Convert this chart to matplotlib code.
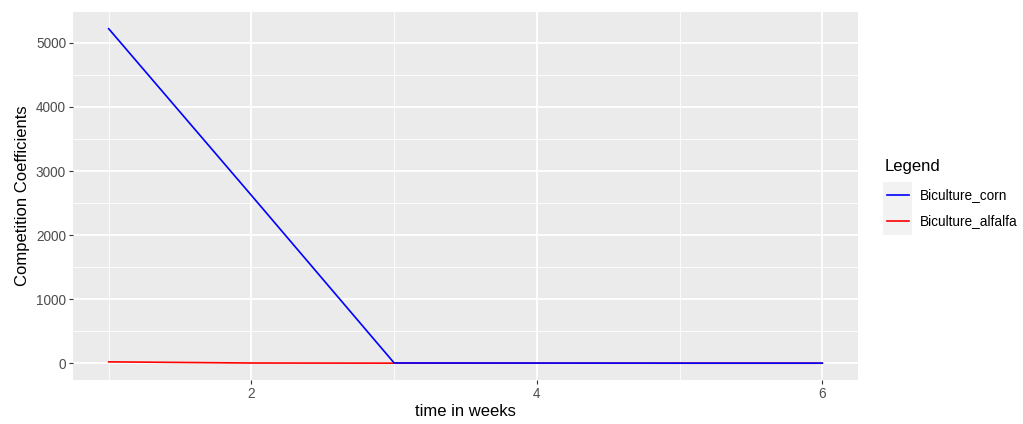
import matplotlib
matplotlib.use("Agg")
import matplotlib.pyplot as plt
from matplotlib.lines import Line2D
from matplotlib.patches import Rectangle

plt.rcParams['font.family'] = ['Liberation Sans', 'DejaVu Sans']

# 주차별 경쟁 계수
weeks = [1, 2, 3, 4, 5, 6]
biculture_corn = [5220, 2620, 5, 3, 2, 2]
biculture_alfalfa = [22, 4, 2, 2, 1, 1]
series_names = ['Biculture_corn', 'Biculture_alfalfa']
series_colors = ['blue', 'red']

W, H = 1023, 424
fig = plt.figure(figsize=(W / 100, H / 100), dpi=100)
ax = fig.add_axes([73 / W, 44 / H, 785 / W, 368 / H])
ax.set_facecolor('#EBEBEB')
for s in ax.spines.values():
    s.set_visible(False)

ax.plot(weeks, biculture_corn, color=series_colors[0], linewidth=1.2, zorder=3)
ax.plot(weeks, biculture_alfalfa, color=series_colors[1], linewidth=1.2, zorder=2)

ax.set_xlim(0.75, 6.25)
ax.set_ylim(-261, 5481)
ax.set_xticks([2, 4, 6])
ax.set_yticks([0, 1000, 2000, 3000, 4000, 5000])
ax.set_xticks([1, 3, 5], minor=True)
ax.set_yticks([500, 1500, 2500, 3500, 4500], minor=True)
ax.grid(True, which='major', color='white', linewidth=1.3)
ax.grid(True, which='minor', color='white', linewidth=0.6)
ax.set_axisbelow(True)
ax.tick_params(which='major', length=3, width=0.8, color='#333333',
               labelsize=9.8, labelcolor='#4D4D4D', pad=2)
ax.tick_params(which='minor', length=0)

ax.set_xlabel('time in weeks', fontsize=12, labelpad=2)
ax.set_ylabel('Competition Coefficients', fontsize=12, labelpad=4)

# 범례는 직접 그림 (ggplot 스타일)
fig.text(885 / W, 1 - 171 / H, 'Legend', fontsize=12, va='baseline', ha='left')
fig.patches.append(Rectangle((883 / W, 1 - 235 / H), 29 / W, 53 / H,
                             transform=fig.transFigure, facecolor='#F2F2F2',
                             edgecolor='none'))
for i, (name, col) in enumerate(zip(series_names, series_colors)):
    yc = 1 - (195 + 26 * i) / H
    fig.lines.append(Line2D([887 / W, 909 / W], [yc, yc], color=col,
                            linewidth=1.2, transform=fig.transFigure))
    fig.text(920 / W, yc, name, fontsize=9.8, va='center', ha='left')

fig.savefig('out.png', dpi=100)
